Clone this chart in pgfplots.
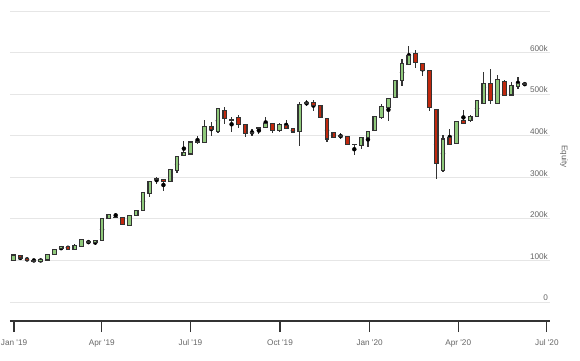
\documentclass[border=0pt]{standalone}
\usepackage{fontspec}
\setmainfont{Liberation Sans}
\usepackage{pgfplots}
\usepackage{pgfplotstable}
\pgfplotsset{compat=1.18}
\definecolor{cgreen}{HTML}{8FC97B}
\definecolor{cred}{HTML}{C0280E}
\definecolor{cedge}{HTML}{333333}
\definecolor{cgrid}{HTML}{E6E6E6}
\definecolor{ctext}{HTML}{666666}

\pgfplotstableread{
i o h l c
0 100 115 100 113
1 112 112 100 106
2 105 105 100 100
3 99.5 102 98 98.5
4 97 103 97 103
5 101 116 98 115
6 114 127 112 127
7 128 134 125 134
8 134 134 127 127
9 126 139 126 135
10 133 151 133 151
11 143.5 145 143 144.5
12 143 148 138 148
13 148 201 148 201
14 201 211 201 211
15 203 214 203 204
16 204 204 187 187
17 184 209 184 208
18 208 220 206 220
19 220 264 220 264
20 261 290 253 290
21 295.5 301 285 296.5
22 295 295 268 289
23 289 319 288 319
24 316 352 311 350
25 352 387 351 360
26 356 385 354 385
27 384 399 380 385
28 383 437 383 423
29 422 432 400 415
30 410 465 407 465
31 461 468 427 441
32 438.5 445 410 437.5
33 444 449 418 427
34 427 427 396 405
35 407.5 416 400 406.5
36 418.5 421 404 417.5
37 420 444 420 429
38 429 429 407 412
39 412 430 409 427
40 425 437 415 417
41 417 417 407 409
42 410 481 376 475
43 479.5 485 471 478.5
44 480 485 460 473
45 473 473 444 444
46 441 441 385 392
47 408 410 396 396
48 400.5 407 391 399.5
49 398 398 379 379
50 379.5 381 354 378.5
51 376 398 367 396
52 395 410 372 410
53 412 446 412 446
54 443 477 441 470
55 468 489 436 489
56 492 533 490 533
57 533 584 520 574
58 572 615 572 593
59 598 606 563 576
60 574 575 544 557
61 557 557 460 467
62 463 463 296 333
63 317 401 313 392
64 396 415 379 379
65 381 434 381 434
66 437 461 427 429
67 437 449 434 447
68 446 485 446 485
69 478 553 478 525
70 525 560 477 484
71 478 545 478 535
72 530 535 497 497
73 498 530 495 521
74 518 542 512 525
75 523.5 524.5 523.5 524.5
}\ohlc

\pgfplotsset{base/.style={scale only axis, width=540pt, height=310pt,
  xmin=-0.5, xmax=78.7, ymin=-45.7, ymax=700, at={(0,0)}, anchor=south west}}

\begin{document}
\begin{tikzpicture}
\path[use as bounding box] (-10pt,-39pt) rectangle (570pt,321pt);
\begin{axis}[base,
  axis x line*=bottom, axis y line*=right,
  y axis line style={draw=none},
  x axis line style={cedge, line width=1.3pt},
  xtick={0.1,12.96,25.96,39.1,52.24,65.24,78.24},
  xticklabels={Jan \textquotesingle19, Apr \textquotesingle19, Jul \textquotesingle19, Oct \textquotesingle19, Jan \textquotesingle20, Apr \textquotesingle20, Jul \textquotesingle20},
  tick align=outside, major tick length=11pt,
  xtick style={cedge, line width=1.2pt},
  ytick={0,100,200,300,400,500,600,700},
  yticklabels={0,100k,200k,300k,400k,500k,600k,{}},
  ytick style={draw=none},
  ymajorgrids, grid style={cgrid, line width=0.9pt},
  xticklabel style={font=\fontsize{8.2}{10}\selectfont, text=ctext, yshift=-4pt},
  yticklabel style={anchor=south east, font=\fontsize{8.2}{10}\selectfont, text=ctext, inner sep=1pt, xshift=-12pt},
  ylabel={Equity},
  every axis y label/.style={at={(axis description cs:1.026,0.53)}, anchor=center, rotate=-90, font=\fontsize{8.2}{10}\selectfont, text=ctext},
]
\addplot[only marks, mark=none, error bars/.cd, y dir=both, y explicit, error mark=none,
  error bar style={line width=1.2pt, cedge}]
  table[x=i, y expr={(\thisrow{h}+\thisrow{l})/2}, y error expr={(\thisrow{h}-\thisrow{l})/2}] {\ohlc};
\end{axis}
\begin{axis}[base, hide axis, ybar stacked, bar width=3.6pt]
\addplot[draw=none, fill=none] table[x=i, y expr={min(\thisrow{o},\thisrow{c})}] {\ohlc};
\addplot[fill=cgreen, draw=cedge, line width=1.2pt] table[x=i, y expr={max(\thisrow{c}-\thisrow{o},0)}] {\ohlc};
\addplot[fill=cred, draw=cedge, line width=1.2pt] table[x=i, y expr={max(\thisrow{o}-\thisrow{c},0)}] {\ohlc};
\end{axis}
\end{tikzpicture}
\end{document}
